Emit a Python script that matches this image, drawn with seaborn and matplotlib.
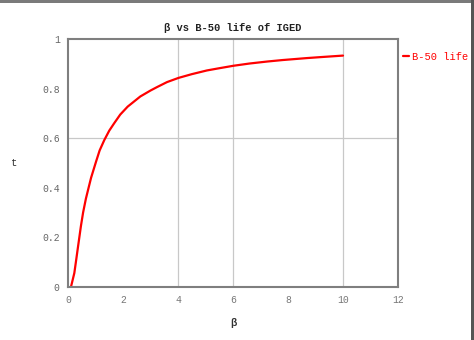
import matplotlib
matplotlib.use("Agg")
import matplotlib.pyplot as plt
import seaborn as sns
import pandas as pd
from matplotlib.patches import Rectangle

beta = [0.11, 0.23, 0.30, 0.35, 0.47, 0.55, 0.65, 0.75, 0.84, 1.02, 1.15, 1.32, 1.5,
        1.68, 1.9, 2.17, 2.63, 3.0, 3.24, 3.6, 4.02, 4.5, 5.05, 5.5, 6.02, 6.6, 7.24,
        7.8, 8.69, 9.2, 10.0]
b50_life = [0.0, 0.055, 0.11, 0.15, 0.245, 0.30, 0.355, 0.40, 0.44, 0.505, 0.55, 0.592,
            0.63, 0.66, 0.695, 0.727, 0.768, 0.792, 0.806, 0.826, 0.843, 0.858, 0.873,
            0.882, 0.892, 0.901, 0.909, 0.915, 0.923, 0.927, 0.933]
x_ticks = [0, 2, 4, 6, 8, 10, 12]
y_ticks = [0, 0.2, 0.4, 0.6, 0.8, 1]
y_tick_labels = ["0", "0.2", "0.4", "0.6", "0.8", "1"]
x_grid = [4, 6, 10]
y_grid = [0.6]
series_name = "B-50 life"

sns.set_theme(style="white")
plt.rcParams['font.family'] = ['Liberation Mono', 'DejaVu Sans Mono', 'DejaVu Sans']

df = pd.DataFrame({"beta": beta, "life": b50_life, "series": series_name})

fig = plt.figure(figsize=(4.74, 3.40), dpi=100)
ax = fig.add_axes([68/474, (340-286.7)/340, 330/474, 247.7/340])

for gx in x_grid:
    ax.axvline(gx, color="#c8c8c8", lw=0.9, zorder=0)
for gy in y_grid:
    ax.axhline(gy, color="#c8c8c8", lw=0.9, zorder=0)

sns.lineplot(data=df, x="beta", y="life", hue="series", palette=["#ff0000"],
             linewidth=1.6, ax=ax, legend=True)

ax.set_xlim(0, 12)
ax.set_ylim(0, 1)
ax.set_xticks(x_ticks)
ax.set_xticklabels([str(t) for t in x_ticks])
ax.set_yticks(y_ticks)
ax.set_yticklabels(y_tick_labels)
ax.tick_params(axis="both", length=0, labelsize=7, colors="#777777", pad=6)
for lbl in ax.get_yticklabels():
    lbl.set_color("#666666")

for s in ax.spines.values():
    s.set_color("#7f7f7f")
    s.set_linewidth(1.5)

ax.set_xlabel("β", fontsize=7.5, color="#333333", labelpad=9, fontweight="bold")
ax.set_ylabel("t", fontsize=7.5, color="#333333", labelpad=20, rotation=0, va="center")
ax.set_title("β vs B-50 life of IGED", fontsize=7.5, fontweight="bold", color="#222222", pad=6)

leg = ax.legend(loc="center left", bbox_to_anchor=(1.0, 0.927), frameon=False,
                handlelength=0.6, handletextpad=0.2, borderaxespad=0.1, fontsize=7.5)
for t in leg.get_texts():
    t.set_color("#ff0000")

fig.add_artist(Rectangle((0, 1 - 3/340), 1, 3/340, transform=fig.transFigure,
                         color="#7a7a7a", lw=0))
fig.add_artist(Rectangle((1 - 3/474, 0), 3/474, 1, transform=fig.transFigure,
                         color="#555555", lw=0))

fig.savefig("out.png", dpi=100)
